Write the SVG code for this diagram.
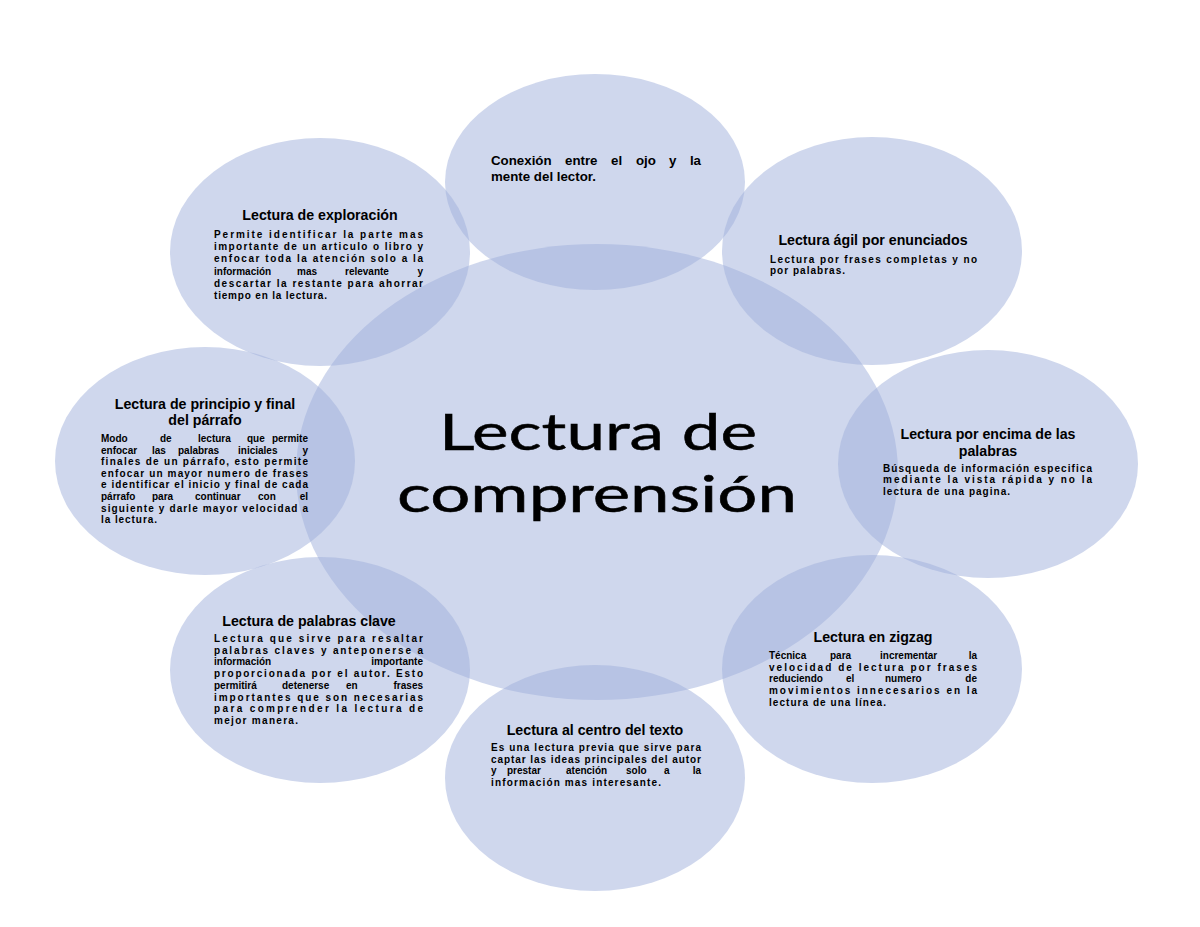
<svg xmlns="http://www.w3.org/2000/svg" width="1200" height="927" viewBox="0 0 1200 927">
<style>
.bub{fill:#9fafdb;fill-opacity:0.5}
text{font-family:"Liberation Sans","Arial",sans-serif;fill:#000}
.h{font-size:14.2px;font-weight:bold;text-anchor:middle}
.b{font-size:10px;font-weight:bold}
.t{font-size:13.3px;font-weight:bold}
.title{font-family:Lato,"Open Sans",sans-serif;font-size:51px;text-anchor:middle;stroke:#000;stroke-width:0.5}
</style>
<rect width="1200" height="927" fill="#ffffff"/>
<g id="connectors"></g>
<g id="center">
<ellipse class="bub" cx="597" cy="472" rx="301" ry="228"/>
<text class="title" x="598" y="450" textLength="318" lengthAdjust="spacingAndGlyphs">Lectura de</text>
<text class="title" x="597" y="512" textLength="400" lengthAdjust="spacingAndGlyphs">comprensión</text>
</g>
<g id="top">
<ellipse class="bub" cx="595" cy="182" rx="150" ry="108"/>
<text class="t" y="165"><tspan x="491">Conexión</tspan><tspan x="565">entre</tspan><tspan x="611">el</tspan><tspan x="636">ojo</tspan><tspan x="669">y</tspan><tspan x="701" text-anchor="end">la</tspan></text>
<text class="t" x="491" y="180.5">mente del lector.</text>
</g>
<g id="top-left">
<ellipse class="bub" cx="320" cy="252" rx="150" ry="114"/>
<text class="h" x="320" y="220">Lectura de exploración</text>
<text class="b" x="214" y="238" textLength="209" lengthAdjust="spacing">Permite identificar la parte mas</text>
<text class="b" x="214" y="250.2" textLength="209" lengthAdjust="spacing">importante de un articulo o libro y</text>
<text class="b" x="214" y="262.4" textLength="209" lengthAdjust="spacing">enfocar toda la atención solo a la</text>
<text class="b" y="274.6"><tspan x="214">información</tspan><tspan x="297">mas</tspan><tspan x="345">relevante</tspan><tspan x="423" text-anchor="end">y</tspan></text>
<text class="b" x="214" y="286.8" textLength="209" lengthAdjust="spacing">descartar la restante para ahorrar</text>
<text class="b" x="214" y="299" textLength="113" lengthAdjust="spacing">tiempo en la lectura.</text>
</g>
<g id="top-right">
<ellipse class="bub" cx="872" cy="251" rx="150" ry="114"/>
<text class="h" x="873" y="245">Lectura ágil por enunciados</text>
<text class="b" x="770" y="262.5" textLength="207" lengthAdjust="spacing">Lectura por frases completas y no</text>
<text class="b" x="770" y="274" textLength="75" lengthAdjust="spacing">por palabras.</text>
</g>
<g id="left">
<ellipse class="bub" cx="205" cy="461" rx="150" ry="114"/>
<text class="h" x="205" y="408.5">Lectura de principio y final</text>
<text class="h" x="205" y="425">del párrafo</text>
<text class="b" y="442"><tspan x="101">Modo</tspan><tspan x="160">de</tspan><tspan x="198">lectura</tspan><tspan x="247">que</tspan><tspan x="308" text-anchor="end">permite</tspan></text>
<text class="b" y="453.6"><tspan x="101">enfocar</tspan><tspan x="152">las</tspan><tspan x="178">palabras</tspan><tspan x="238">iniciales</tspan><tspan x="308" text-anchor="end">y</tspan></text>
<text class="b" x="101" y="465.2" textLength="207" lengthAdjust="spacing">finales de un párrafo, esto permite</text>
<text class="b" x="101" y="476.8" textLength="207" lengthAdjust="spacing">enfocar un mayor numero de frases</text>
<text class="b" x="101" y="488.4" textLength="207" lengthAdjust="spacing">e identificar el inicio y final de cada</text>
<text class="b" y="500"><tspan x="101">párrafo</tspan><tspan x="152">para</tspan><tspan x="195">continuar</tspan><tspan x="258">con</tspan><tspan x="308" text-anchor="end">el</tspan></text>
<text class="b" x="101" y="511.6" textLength="207" lengthAdjust="spacing">siguiente y darle mayor velocidad a</text>
<text class="b" x="101" y="523.2" textLength="56" lengthAdjust="spacing">la lectura.</text>
</g>
<g id="right">
<ellipse class="bub" cx="988" cy="464" rx="150" ry="114"/>
<text class="h" x="988" y="439">Lectura por encima de las</text>
<text class="h" x="988" y="455.5">palabras</text>
<text class="b" x="883" y="471.5" textLength="209" lengthAdjust="spacing">Búsqueda de información especifica</text>
<text class="b" x="883" y="483" textLength="209" lengthAdjust="spacing">mediante la vista rápida y no la</text>
<text class="b" x="883" y="494.5" textLength="127" lengthAdjust="spacing">lectura de una pagina.</text>
</g>
<g id="bottom-left">
<ellipse class="bub" cx="320" cy="670" rx="150" ry="113"/>
<text class="h" x="309" y="626">Lectura de palabras clave</text>
<text class="b" x="214" y="642" textLength="209" lengthAdjust="spacing">Lectura que sirve para resaltar</text>
<text class="b" x="214" y="653.7" textLength="209" lengthAdjust="spacing">palabras claves y anteponerse a</text>
<text class="b" y="665.4"><tspan x="214">información</tspan><tspan x="423" text-anchor="end">importante</tspan></text>
<text class="b" x="214" y="677.1" textLength="209" lengthAdjust="spacing">proporcionada por el autor. Esto</text>
<text class="b" y="688.8"><tspan x="214">permitirá</tspan><tspan x="282">detenerse</tspan><tspan x="346">en</tspan><tspan x="423" text-anchor="end">frases</tspan></text>
<text class="b" x="214" y="700.5" textLength="209" lengthAdjust="spacing">importantes que son necesarias</text>
<text class="b" x="214" y="712.2" textLength="209" lengthAdjust="spacing">para comprender la lectura de</text>
<text class="b" x="214" y="723.9" textLength="84" lengthAdjust="spacing">mejor manera.</text>
</g>
<g id="bottom-right">
<ellipse class="bub" cx="872" cy="669" rx="150" ry="114"/>
<text class="h" x="873" y="642">Lectura en zigzag</text>
<text class="b" y="659"><tspan x="769">Técnica</tspan><tspan x="830">para</tspan><tspan x="880">incrementar</tspan><tspan x="977" text-anchor="end">la</tspan></text>
<text class="b" x="769" y="670.7" textLength="208" lengthAdjust="spacing">velocidad de lectura por frases</text>
<text class="b" y="682.4"><tspan x="769">reduciendo</tspan><tspan x="846">el</tspan><tspan x="885">numero</tspan><tspan x="977" text-anchor="end">de</tspan></text>
<text class="b" x="769" y="694.1" textLength="208" lengthAdjust="spacing">movimientos innecesarios en la</text>
<text class="b" x="769" y="705.8" textLength="117" lengthAdjust="spacing">lectura de una línea.</text>
</g>
<g id="bottom">
<ellipse class="bub" cx="595" cy="778" rx="150" ry="113"/>
<text class="h" x="595" y="735">Lectura al centro del texto</text>
<text class="b" x="491" y="751" textLength="210" lengthAdjust="spacing">Es una lectura previa que sirve para</text>
<text class="b" x="491" y="762.7" textLength="210" lengthAdjust="spacing">captar las ideas principales del autor</text>
<text class="b" y="774.4"><tspan x="491">y</tspan><tspan x="507">prestar</tspan><tspan x="566">atención</tspan><tspan x="626">solo</tspan><tspan x="664">a</tspan><tspan x="701" text-anchor="end">la</tspan></text>
<text class="b" x="491" y="786.1" textLength="170" lengthAdjust="spacing">información mas interesante.</text>
</g>
</svg>
